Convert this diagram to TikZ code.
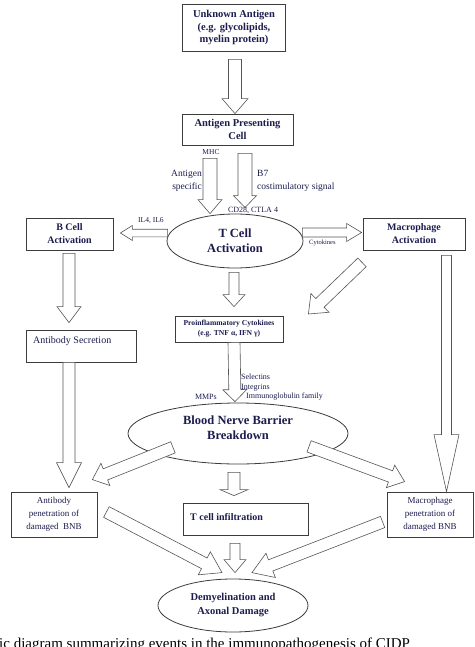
\documentclass[tikz,border=0pt]{standalone}
\usepackage{fontspec}
\setmainfont{Liberation Serif}
\usetikzlibrary{calc,shapes.geometric}
\definecolor{txt}{RGB}{28,28,78}
\definecolor{edge}{RGB}{60,60,60}
\definecolor{arr}{RGB}{85,85,85}
\newcommand{\blockarr}[5]{%
  \path ($(#2)!#5!(#1)$) coordinate (bah);
  \draw[blockarrow] ($(#1)!#3!90:(#2)$) -- ($(bah)!#3!90:(#2)$) -- ($(bah)!#4!90:(#2)$) -- (#2)
    -- ($(bah)!#4!-90:(#2)$) -- ($(bah)!#3!-90:(#2)$) -- ($(#1)!#3!-90:(#2)$) -- cycle;
}
\tikzset{
  box/.style={draw=edge, line width=0.8pt, fill=white, inner sep=0pt, text=txt, align=center},
  oval/.style={ellipse, draw=edge, line width=0.8pt, fill=white, inner sep=0pt, text=txt, align=center},
  blockarrow/.style={draw=arr, line width=0.6pt, fill=white, line join=miter},
  lbl/.style={text=txt, inner sep=0pt},
  bigb/.style={font={\fontsize{10.5}{12.5}\selectfont\bfseries}},
  midb/.style={font={\fontsize{10}{13}\selectfont\bfseries}},
  pen/.style={font={\fontsize{9}{13}\selectfont}},
}
\begin{document}
\begin{tikzpicture}[x=1pt,y=-1pt]
\useasboundingbox (0,0) rectangle (474,647);
% nodes
\node[box, bigb, minimum width=103pt, minimum height=47pt] (ua) at (234,27.5) {Unknown Antigen\\(e.g. glycolipids,\\myelin protein)};
\node[box, bigb, minimum width=111pt, minimum height=31pt] (apc) at (237.5,129.5) {Antigen Presenting\\Cell};
\node[oval, font={\fontsize{12.5}{15}\selectfont\bfseries}, minimum width=136pt, minimum height=54pt] (tcell) at (235,241) {T Cell\\Activation};
\node[box, midb, minimum width=87pt, minimum height=32pt] (bcell) at (69.5,234) {B Cell\\Activation};
\node[box, midb, minimum width=102pt, minimum height=32pt] (mac) at (414,234) {Macrophage\\Activation};
\node[box, minimum width=110pt, minimum height=32pt] (abs) at (81,346) {};
\node[lbl, anchor=west, font={\fontsize{10}{12}\selectfont}] (abst) at (33,341) {Antibody Secretion};
\node[box, font={\fontsize{7.6}{10}\selectfont\bfseries}, minimum width=108pt, minimum height=26pt] (pro) at (229,329) {Proinflammatory Cytokines\\(e.g. TNF α, IFN γ)};
\node[oval, minimum width=220pt, minimum height=61pt] (bnb) at (238,433.5) {};
\node[lbl, align=center, font={\fontsize{12.5}{15}\selectfont\bfseries}] (bnbt) at (238,428) {Blood Nerve Barrier\\Breakdown};
\node[box, pen, minimum width=86pt, minimum height=45pt] (abp) at (54,514.5) {Antibody\\penetration of\\damaged\ \ BNB};
\node[box, minimum width=125pt, minimum height=32pt] (tinf) at (245.5,519) {};
\node[lbl, anchor=west, font={\fontsize{10}{12}\selectfont\bfseries}] (tinft) at (190,517) {T cell infiltration};
\node[box, pen, minimum width=86pt, minimum height=45pt] (mpp) at (430,514.5) {Macrophage\\penetration of\\damaged BNB};
\node[oval, font={\fontsize{10.5}{14}\selectfont\bfseries}, minimum width=150pt, minimum height=53pt] (dem) at (233,605.5) {Demyelination and\\Axonal Damage};
% arrow end points
\coordinate (a1s) at ($(ua.south)+(1,8)$);
\coordinate (a1e) at ($(apc.north)+(-2.5,0)$);
\coordinate (a2s) at ($(apc.south)+(-27.5,13)$);
\coordinate (a2e) at ($(tcell.north)+(-25,0)$);
\coordinate (a3s) at ($(apc.south)+(7.5,8)$);
\coordinate (a3e) at ($(tcell.north)+(10,-6)$);
\coordinate (a4s) at ($(tcell.west)+(1,-8)$);
\coordinate (a4e) at ($(bcell.east)+(7,-1)$);
\coordinate (a5s) at ($(tcell.east)+(-1,-8.5)$);
\coordinate (a5e) at ($(mac.west)+(-1,-1.5)$);
\coordinate (a6s) at ($(bcell.south)+(-0.5,3)$);
\coordinate (a6e) at ($(abs.north)+(-12,-7)$);
\coordinate (a7s) at ($(tcell.south)+(-1,4)$);
\coordinate (a7e) at ($(pro.north)+(5,-9)$);
\coordinate (a8s) at ($(mac.south)+(-52,12)$);
\coordinate (a8e) at ($(pro.east)+(25,-15)$);
\coordinate (a9s) at ($(pro.south)+(5,0)$);
\coordinate (a9e) at ($(bnb.north)+(-3,-1)$);
\coordinate (a10s) at ($(bnb.south west)+(13,-8)$);
\coordinate (a10e) at ($(abp.north east)+(-5,-12)$);
\coordinate (a11s) at ($(bnb.south)+(-4,8)$);
\coordinate (a11e) at ($(tinf.north)+(-11.5,-7)$);
\coordinate (a12s) at ($(bnb.south east)+(-7,-9)$);
\coordinate (a12e) at ($(mpp.north west)+(18,-10)$);
\coordinate (a13s) at ($(abs.south)+(-12,0)$);
\coordinate (a13e) at ($(abp.north)+(15,-4)$);
\coordinate (a14s) at ($(mac.south)+(32.5,5)$);
\coordinate (a14e) at ($(mpp.north)+(16.5,0)$);
\coordinate (a15s) at ($(tinf.south)+(-10.5,8)$);
\coordinate (a15e) at ($(dem.north)+(2,-6)$);
\coordinate (a16s) at ($(abp.east)+(9,-2.5)$);
\coordinate (a16e) at ($(dem.north)+(-11,-6)$);
\coordinate (a17s) at ($(mpp.west)+(-4,7.5)$);
\coordinate (a17e) at ($(dem.north)+(19,-6)$);
% block arrows
\blockarr{a1s}{a1e}{6.5pt}{13pt}{15pt}
\blockarr{a2s}{a2e}{7pt}{12pt}{14pt}
\blockarr{a3s}{a3e}{7pt}{11.5pt}{12pt}
\blockarr{a4s}{a4e}{3.8pt}{7.5pt}{12pt}
\blockarr{a5s}{a5e}{4.5pt}{9pt}{15pt}
\blockarr{a6s}{a6e}{6pt}{12pt}{16pt}
\blockarr{a7s}{a7e}{5pt}{11pt}{12pt}
\blockarr{a8s}{a8e}{6pt}{13pt}{16pt}
\blockarr{a9s}{a9e}{6pt}{12pt}{12pt}
\blockarr{a10s}{a10e}{6pt}{12pt}{14pt}
\blockarr{a11s}{a11e}{6pt}{14pt}{6pt}
\blockarr{a12s}{a12e}{6pt}{12pt}{15pt}
\blockarr{a13s}{a13e}{6pt}{12.5pt}{25pt}
\blockarr{a14s}{a14e}{5pt}{12.5pt}{57pt}
\blockarr{a15s}{a15e}{5pt}{11pt}{13pt}
\blockarr{a16s}{a16e}{6pt}{13pt}{20pt}
\blockarr{a17s}{a17e}{6pt}{13pt}{20pt}
% labels
\node[lbl, font={\fontsize{7.5}{9}\selectfont}] (mhc) at (211,152.5) {MHC};
\node[lbl, anchor=east, align=right, font={\fontsize{9.5}{13}\selectfont}] (asp) at (202,180.5) {Antigen\\specific};
\node[lbl, anchor=west, align=left, font={\fontsize{9.5}{13}\selectfont}] (b7) at (257,180.5) {B7\\costimulatory signal};
\node[lbl, font={\fontsize{8}{10}\selectfont}] (cd28) at (253,210) {CD28, CTLA 4};
\node[lbl, anchor=west, font={\fontsize{7.5}{9}\selectfont}] (il) at (138,221) {IL4, IL6};
\node[lbl, anchor=west, font={\fontsize{6.5}{8}\selectfont}] (cyt) at (309,243) {Cytokines};
\node[lbl, anchor=west, align=left, font={\fontsize{8}{9.5}\selectfont}] (sel) at (241,382.5) {Selectins\\Integrins};
\node[lbl, anchor=west, font={\fontsize{8}{9.5}\selectfont}] (igf) at (246,397) {Immunoglobulin family};
\node[lbl, anchor=east, font={\fontsize{8}{9.5}\selectfont}] (mmp) at (217,397) {MMPs};
\node[anchor=base west, inner sep=0pt, font={\fontsize{15}{18}\selectfont}] (cap) at (-1,648.5) {ic diagram summarizing events in the immunopathogenesis of CIDP};
\end{tikzpicture}
\end{document}
